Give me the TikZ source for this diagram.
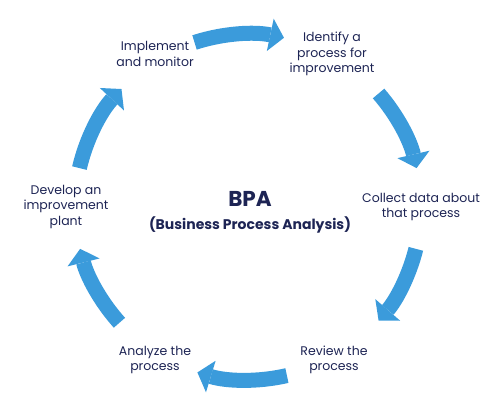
\documentclass[tikz,border=0pt]{standalone}
\usepackage{fontspec}
\setmainfont{Poppins}
\usepackage{xcolor}
\usepackage{tikz}
\usetikzlibrary{arrows.meta, positioning}
\definecolor{cycleblue}{RGB}{59,155,219}
\definecolor{textnavy}{RGB}{29,36,84}
\tikzstyle{cyclearrow} = [draw=cycleblue, line width=15pt, -{Triangle[length=14pt, width=33pt, line width=0pt]}]

\begin{document}
\begin{tikzpicture}[x=1pt, y=1pt]
	% Define styles for the texts around the cycle
	\tikzstyle{steptext} = [text=textnavy, align=center, font=\fontsize{12.5}{15.7}\selectfont, inner sep=0pt]
	\tikzstyle{titletext} = [text=textnavy, font=\fontsize{21.5}{24}\selectfont\bfseries, inner sep=0pt]
	\tikzstyle{subtitletext} = [text=textnavy, font=\fontsize{14}{18}\selectfont\bfseries, inner sep=0pt]
	
	\useasboundingbox (0,0) rectangle (500,412);
	
	% Centre of the cycle
	\coordinate (c) at (248,205);
	
	% Title
	\node[titletext] (bpa) at (250,213) {BPA};
	\node[subtitletext, below=10pt of bpa] (bpafull) {(Business Process Analysis)};
	
	% Steps
	\node[steptext] (identify) at (332,358) {Identify a\\process for\\improvement};
	\node[steptext] (collect) at (421,205) {Collect data about\\that process};
	\node[steptext] (review) at (334,52) {Review the\\process};
	\node[steptext] (analyze) at (155,52) {Analyze the\\process};
	\node[steptext] (develop) at (66,205) {Develop an\\improvement\\plant};
	\node[steptext] (implement) at (155,358) {Implement\\and monitor};
	
	% Arrow tails on the circle
	\coordinate (a1) at ([shift={(108:173)}]c);
	\coordinate (a2) at ([shift={(41:173)}]c);
	\coordinate (a3) at ([shift={(-14:173)}]c);
	\coordinate (a4) at ([shift={(-77:173)}]c);
	\coordinate (a5) at ([shift={(-138:173)}]c);
	\coordinate (a6) at ([shift={(167:173)}]c);
	
	% Arrows
	\draw[cyclearrow] (a1) arc[start angle=108, end angle=78, radius=173pt];
	\draw[cyclearrow] (a2) arc[start angle=41, end angle=13, radius=173pt];
	\draw[cyclearrow] (a3) arc[start angle=-14, end angle=-41, radius=173pt];
	\draw[cyclearrow] (a4) arc[start angle=-77, end angle=-107, radius=173pt];
	\draw[cyclearrow] (a5) arc[start angle=-138, end angle=-166, radius=173pt];
	\draw[cyclearrow] (a6) arc[start angle=167, end angle=137, radius=173pt];
\end{tikzpicture}
\end{document}
